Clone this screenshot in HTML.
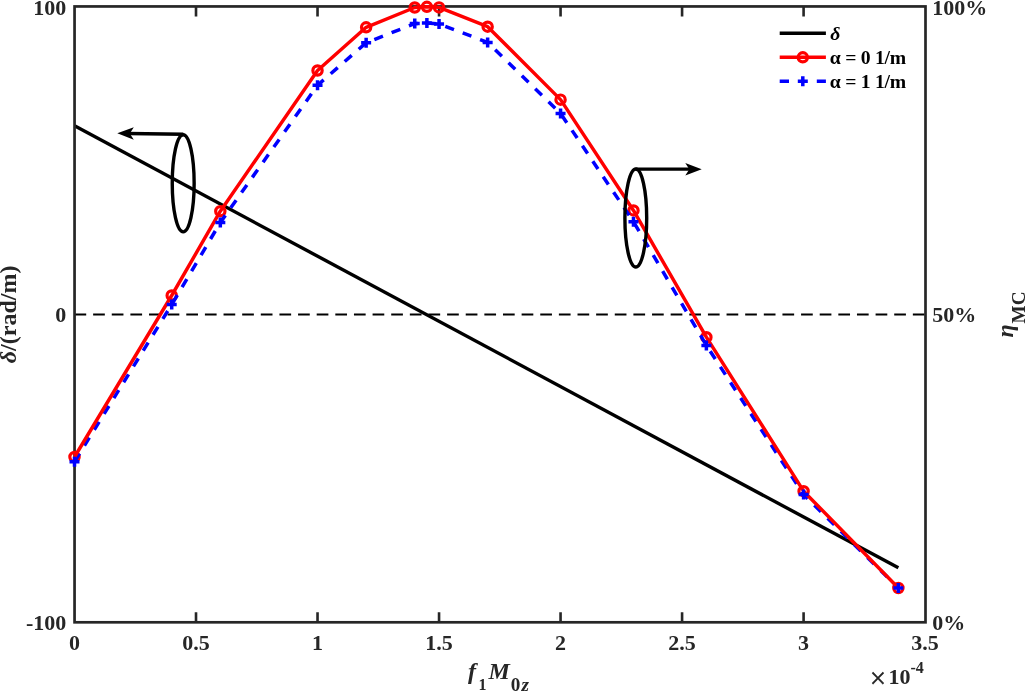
<!DOCTYPE html>
<html><head><meta charset="utf-8"><title>plot</title>
<style>
html,body{margin:0;padding:0;background:#fff;}
body{width:1025px;height:692px;overflow:hidden;}
svg{display:block;}
text{font-family:"Liberation Serif","DejaVu Serif",serif;font-weight:bold;fill:#262626;}
.t{font-size:22px;}
.l{font-size:24px;}
.g{font-size:19.7px;fill:#000;}
.i{font-style:italic;}
</style></head><body>
<svg width="1025" height="692" viewBox="0 0 1025 692">
<rect x="0" y="0" width="1025" height="692" fill="#fff"/>

<line x1="74.55" y1="125.8" x2="898.37" y2="567.8" stroke="#000" stroke-width="3.4"/>
<line x1="74.5" y1="314.5" x2="925.50" y2="314.5" stroke="#000" stroke-width="1.9" stroke-dasharray="11.7 6.93"/>
<rect x="74.55" y="6.45" width="850.95" height="615.85" fill="none" stroke="#262626" stroke-width="2.7"/>
<path d="M196.01 622.30V612.30M196.01 6.45V16.45M317.53 622.30V612.30M317.53 6.45V16.45M439.05 622.30V612.30M439.05 6.45V16.45M560.56 622.30V612.30M560.56 6.45V16.45M682.08 622.30V612.30M682.08 6.45V16.45M803.59 622.30V612.30M803.59 6.45V16.45" stroke="#262626" stroke-width="2.6" fill="none"/>
<circle cx="74.50" cy="457.00" r="4.65" fill="none" stroke="#f00" stroke-width="3.2"/>
<circle cx="171.71" cy="295.50" r="4.65" fill="none" stroke="#f00" stroke-width="3.2"/>
<circle cx="220.32" cy="211.20" r="4.65" fill="none" stroke="#f00" stroke-width="3.2"/>
<circle cx="317.53" cy="70.50" r="4.65" fill="none" stroke="#f00" stroke-width="3.2"/>
<circle cx="366.14" cy="27.30" r="4.65" fill="none" stroke="#f00" stroke-width="3.2"/>
<circle cx="414.74" cy="7.50" r="4.65" fill="none" stroke="#f00" stroke-width="3.2"/>
<circle cx="426.89" cy="6.80" r="4.65" fill="none" stroke="#f00" stroke-width="3.2"/>
<circle cx="439.05" cy="7.40" r="4.65" fill="none" stroke="#f00" stroke-width="3.2"/>
<circle cx="487.65" cy="26.70" r="4.65" fill="none" stroke="#f00" stroke-width="3.2"/>
<circle cx="560.56" cy="99.65" r="4.65" fill="none" stroke="#f00" stroke-width="3.2"/>
<circle cx="633.47" cy="210.45" r="4.65" fill="none" stroke="#f00" stroke-width="3.2"/>
<circle cx="706.38" cy="337.20" r="4.65" fill="none" stroke="#f00" stroke-width="3.2"/>
<circle cx="803.59" cy="491.20" r="4.65" fill="none" stroke="#f00" stroke-width="3.2"/>
<circle cx="898.37" cy="588.00" r="4.65" fill="none" stroke="#f00" stroke-width="3.2"/>
<polyline points="74.50,461.70 171.71,304.60 220.32,222.50 317.53,85.30 366.14,42.80 414.74,23.60 426.89,23.10 439.05,23.90 487.65,42.40 560.56,113.40 633.47,221.70 706.38,345.40 803.59,494.60 898.37,588.00" fill="none" stroke="#00f" stroke-width="3.50" stroke-dasharray="9.3 9.32" stroke-dashoffset="-0.3" stroke-linejoin="round"/>
<polyline points="74.50,457.00 171.71,295.50 220.32,211.20 317.53,70.50 366.14,27.30 414.74,7.50 426.89,6.80 439.05,7.40 487.65,26.70 560.56,99.65 633.47,210.45 706.38,337.20 803.59,491.20 898.37,588.00" fill="none" stroke="#f00" stroke-width="3.45" stroke-linejoin="round"/>
<path d="M69.50 461.70H79.50M74.50 456.70V466.70M166.71 304.60H176.71M171.71 299.60V309.60M215.32 222.50H225.32M220.32 217.50V227.50M312.53 85.30H322.53M317.53 80.30V90.30M361.14 42.80H371.14M366.14 37.80V47.80M409.74 23.60H419.74M414.74 18.60V28.60M421.89 23.10H431.89M426.89 18.10V28.10M434.05 23.90H444.05M439.05 18.90V28.90M482.65 42.40H492.65M487.65 37.40V47.40M555.56 113.40H565.56M560.56 108.40V118.40M628.47 221.70H638.47M633.47 216.70V226.70M701.38 345.40H711.38M706.38 340.40V350.40M798.59 494.60H808.59M803.59 489.60V499.60M893.37 588.00H903.37M898.37 583.00V593.00" stroke="#00f" stroke-width="3.5" fill="none"/>
<ellipse cx="183.2" cy="183.3" rx="10.95" ry="48.6" fill="none" stroke="#000" stroke-width="3.4"/>
<line x1="183.3" y1="134.2" x2="128" y2="133.5" stroke="#000" stroke-width="3.4"/>
<polygon points="117.3,133.3 133.8,127.2 129.8,133.4 133.8,139.8" fill="#000"/>
<ellipse cx="635.8" cy="218" rx="10.9" ry="49" fill="none" stroke="#000" stroke-width="3.4"/>
<line x1="635.7" y1="169.1" x2="691" y2="169.1" stroke="#000" stroke-width="3.4"/>
<polygon points="701.7,169.2 685.3,163 689.3,169.2 685.3,175.6" fill="#000"/>
<line x1="779.7" y1="33.3" x2="825.9" y2="33.3" stroke="#000" stroke-width="3.4"/>
<line x1="779.7" y1="57.3" x2="825.9" y2="57.3" stroke="#f00" stroke-width="3.45"/>
<circle cx="802.8" cy="57.3" r="4.65" fill="none" stroke="#f00" stroke-width="3.2"/>
<path d="M779.7 81.2H789M816.8 81.2H825.9" stroke="#00f" stroke-width="3.50" fill="none"/><path d="M797.8 81.2H807.8M802.8 76.2V86.2" stroke="#00f" stroke-width="3.5" fill="none"/>
<text class="g i" x="830.2" y="40">δ</text>
<text class="g" x="829.8" y="63.9" textLength="76.4" lengthAdjust="spacing">α = 0 1/m</text>
<text class="g" x="829.8" y="87.8" textLength="76.4" lengthAdjust="spacing">α = 1 1/m</text>
<text class="t" x="74.50" y="650.4" text-anchor="middle">0</text>
<text class="t" x="196.01" y="650.4" text-anchor="middle">0.5</text>
<text class="t" x="317.53" y="650.4" text-anchor="middle">1</text>
<text class="t" x="439.05" y="650.4" text-anchor="middle">1.5</text>
<text class="t" x="560.56" y="650.4" text-anchor="middle">2</text>
<text class="t" x="682.08" y="650.4" text-anchor="middle">2.5</text>
<text class="t" x="803.59" y="650.4" text-anchor="middle">3</text>
<text class="t" x="925.11" y="650.4" text-anchor="middle">3.5</text>
<text class="t" x="66.3" y="15.0" text-anchor="end">100</text>
<text class="t" x="66.3" y="322.4" text-anchor="end">0</text>
<text class="t" x="66.3" y="630.3" text-anchor="end">-100</text>
<text class="t" x="932.2" y="15.0">100%</text>
<text class="t" x="932.2" y="322.3">50%</text>
<text class="t" x="932.2" y="630.3">0%</text>
<text x="869.7" y="688.2" style="font-weight:normal;font-size:29px;stroke:#262626;stroke-width:0.35">×</text>
<text class="t" x="888.4" y="684">10<tspan dy="-10.8" font-size="16">-4</tspan></text>
<text class="l i" x="468" y="678.6">f</text>
<text x="478.6" y="690.3" font-size="16">1</text>
<text class="l i" x="488.6" y="678.6">M</text>
<text x="510.8" y="690.8" font-size="19.2">0<tspan class="i" dx="1.2">z</tspan></text>
<text class="l" transform="translate(15.6 363.2) rotate(-90)"><tspan class="i">δ</tspan>/(rad/m)</text>
<text class="l i" transform="translate(1012.8 337.4) rotate(-90)">η</text>
<text font-size="19.2" transform="translate(1024.6 323.4) rotate(-90)">MC</text>
</svg></body></html>
